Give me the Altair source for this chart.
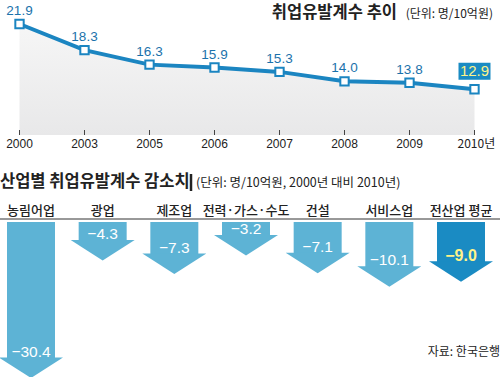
import altair as alt
import pandas as pd

# ---- data ----
years = ["2000", "2003", "2005", "2006", "2007", "2008", "2009", "2010"]
coef = [21.9, 18.3, 16.3, 15.9, 15.3, 14.0, 13.8, 12.9]
industries = ["농림어업", "광업", "제조업", "전력·가스·수도", "건설", "서비스업", "전산업 평균"]
decrease = [-30.4, -4.3, -7.3, -3.2, -7.1, -10.1, -9.0]

top_df = pd.DataFrame({"year": years, "coef": coef, "i": list(range(len(years)))})
bot_df = pd.DataFrame({"ind": industries, "dec": decrease, "k": list(range(len(industries)))})
one = pd.DataFrame({"a": [0]})

KR = "Noto Sans CJK KR"
NUM = "Liberation Sans"
BLUE = "#1b85c1"
LBLUE = "#1a72ab"
ARROW = "#5db3d5"
ARROW_AVG = "#1a8bc3"
YELLOW = "#fff38a"
DARK = "#222222"
Y_MIN = 6.6
LAST = len(years) - 1

# ---- top: line chart ----
x_top = alt.X("year:O", scale=alt.Scale(type="point", domain=years, range=[19.5, 474.5], padding=0), axis=None)
y_top = alt.Y("coef:Q", scale=alt.Scale(domain=[Y_MIN, 21.9], range=[135, 24], zero=False, nice=False), axis=None)

base_top = alt.Chart(top_df)
area = base_top.mark_area(
    color=alt.Gradient(gradient="linear",
                       stops=[alt.GradientStop(color="#f6f6f6", offset=0),
                              alt.GradientStop(color="#e8e8e9", offset=1)],
                       x1=0, x2=0, y1=0, y2=1)
).encode(x=x_top, y=y_top, y2=alt.datum(Y_MIN))
line = base_top.mark_line(color=BLUE, strokeWidth=4).encode(x=x_top, y=y_top)
pts = base_top.mark_point(shape="square", filled=True, fill="white", stroke=BLUE,
                          strokeWidth=2, size=70, opacity=1).encode(x=x_top, y=y_top)
lbl = base_top.transform_filter(f"datum.i < {LAST}").mark_text(
    dy=-13, fontSize=13.5, font=NUM, color=LBLUE
).encode(x=x_top, y=y_top, text=alt.Text("coef:Q", format=".1f"))
box = base_top.transform_filter(f"datum.i == {LAST}").mark_point(
    shape="M-1,-1.66L1,-1.66L1,-0.6L-1,-0.6Z", size=1024, filled=True,
    color=ARROW_AVG, opacity=1, strokeWidth=0
).encode(x=x_top, y=y_top)
box_txt = base_top.transform_filter(f"datum.i == {LAST}").mark_text(
    dy=-18, fontSize=15, font=NUM, color=YELLOW
).encode(x=x_top, y=y_top, text=alt.Text("coef:Q", format=".1f"))
ticks = base_top.mark_rule(color="#444", strokeWidth=1).encode(
    x=x_top, y=alt.value(130), y2=alt.value(135))
yr_lbl = base_top.transform_filter(f"datum.i < {LAST}").mark_text(
    fontSize=12, font=NUM, color=DARK
).encode(x=x_top, y=alt.value(144), text="year:N")
yr_last = base_top.transform_filter(f"datum.i == {LAST}").transform_calculate(
    t="datum.year + '년'"
).mark_text(fontSize=12, font=KR, color=DARK, align="left", dx=-17).encode(
    x=x_top, y=alt.value(144), text="t:N")

top = alt.layer(area, line, pts, lbl, box, box_txt, ticks, yr_lbl, yr_last)

# ---- bottom: arrows ----
x_bot = alt.X("k:Q", scale=alt.Scale(domain=[0, len(industries) - 1], range=[31, 461], nice=False, zero=False), axis=None)
y_bot = alt.Y("dec:Q", scale=alt.Scale(domain=[-40, 0], range=[402, 222], nice=False, zero=False), axis=None)
is_avg = "datum.ind == '전산업 평균'"
col = alt.condition(is_avg, alt.value(ARROW_AVG), alt.value(ARROW))

base_bot = alt.Chart(bot_df)
shaft = base_bot.mark_rule(strokeWidth=48).encode(x=x_bot, y=y_bot, y2=alt.datum(0), color=col)
head = base_bot.mark_point(shape="M-1,-0.04L1,-0.04L0,0.6Z", size=4096, filled=True,
                           opacity=1, strokeWidth=0).encode(x=x_bot, y=y_bot, color=col)
val_lbl = base_bot.transform_filter("!(" + is_avg + ")").mark_text(
    dy=-7, fontSize=15.5, font=NUM, color="white"
).encode(x=x_bot, y=y_bot, text=alt.Text("dec:Q", format=".1f"))
val_avg = base_bot.transform_filter(is_avg).mark_text(
    dy=-7, fontSize=16, font=NUM, fontWeight="bold", color=YELLOW
).encode(x=x_bot, y=y_bot, text=alt.Text("dec:Q", format=".1f"))
cat_lbl = base_bot.mark_text(fontSize=13, font=KR, fontWeight=500, color=DARK).encode(
    x=x_bot, y=alt.value(211), text="ind:N")
hline = alt.Chart(one).mark_rule(color="#333", strokeWidth=1).encode(
    x=alt.value(0), x2=alt.value(500), y=alt.value(219))

bottom = alt.layer(shaft, head, val_lbl, val_avg, cat_lbl, hline)

# ---- titles ----
tbase = alt.Chart(one)
t1 = tbase.mark_text(font=KR, fontSize=16.5, fontWeight="bold", color=DARK, align="right").encode(
    x=alt.value(397), y=alt.value(13), text=alt.value("취업유발계수 추이"))
t1u = tbase.mark_text(font=KR, fontSize=12, color=DARK, align="right").encode(
    x=alt.value(493), y=alt.value(14), text=alt.value("(단위: 명/10억원)"))
t2 = tbase.mark_text(font=KR, fontSize=16.5, fontWeight="bold", color=DARK, align="left").encode(
    x=alt.value(0), y=alt.value(182), text=alt.value("산업별 취업유발계수 감소치"))
t2bar = tbase.mark_rule(color=DARK, strokeWidth=2.5).encode(
    x=alt.value(191), y=alt.value(174), y2=alt.value(191))
t2u = tbase.mark_text(font=KR, fontSize=12.5, color=DARK, align="left").encode(
    x=alt.value(196), y=alt.value(183), text=alt.value("(단위: 명/10억원, 2000년 대비 2010년)"))
src = tbase.mark_text(font=KR, fontSize=12, color=DARK, align="right").encode(
    x=alt.value(500), y=alt.value(352), text=alt.value("자료: 한국은행"))

titles = alt.layer(t1, t1u, t2, t2bar, t2u, src)

chart = alt.layer(top, bottom, titles).resolve_scale(
    x="independent", y="independent", color="independent"
).properties(
    width=500, height=377, padding=0,
    autosize=alt.AutoSizeParams(type="none"),
    background="white",
).configure_view(stroke=None)

chart.save("out.html", embed_options={"renderer": "svg", "actions": False})
